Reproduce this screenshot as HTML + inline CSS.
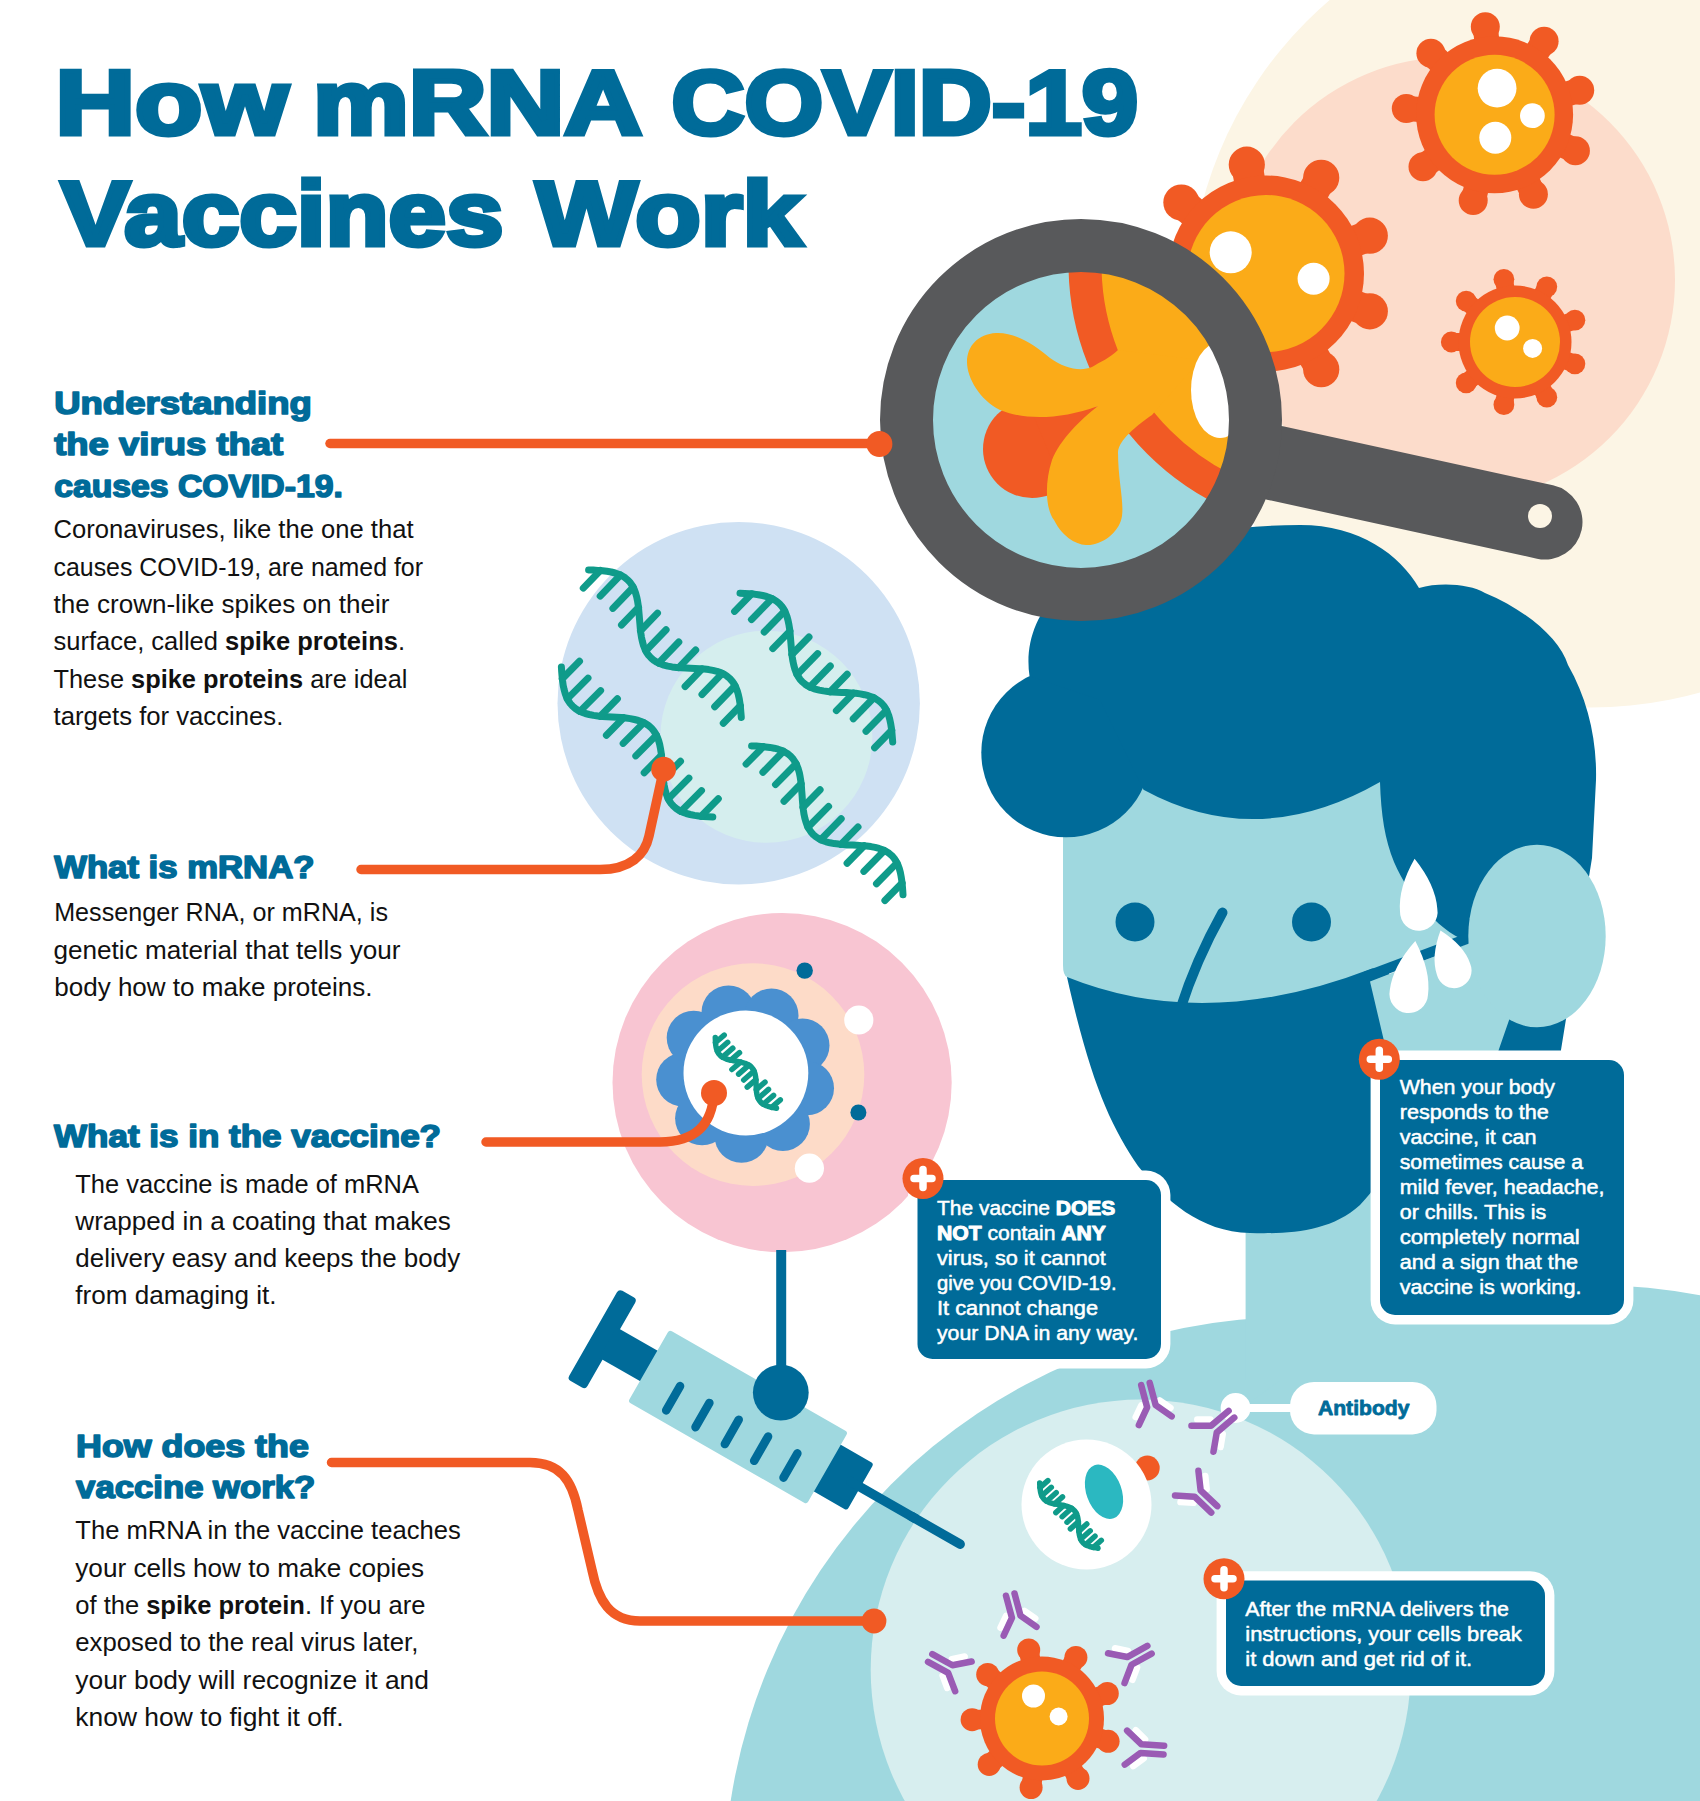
<!DOCTYPE html>
<html><head><meta charset="utf-8"><title>How mRNA COVID-19 Vaccines Work</title>
<style>html,body{margin:0;padding:0;background:#fff;}body{width:1700px;height:1801px;overflow:hidden;font-family:"Liberation Sans",sans-serif;}svg{display:block;}</style></head>
<body>
<svg width="1700" height="1801" viewBox="0 0 1700 1801" font-family="'Liberation Sans', sans-serif">
<circle cx="1591" cy="305.5" r="402" fill="#fcf5e5"/>
<circle cx="1452" cy="280" r="223" fill="#fcdccb"/>
<g><line x1="1486.8" y1="40.6" x2="1485.3" y2="26.7" stroke="#f15a24" stroke-width="25"/><circle cx="1485.3" cy="26.7" r="14.5" fill="#f15a24"/><line x1="1536.3" y1="52.9" x2="1544.1" y2="41.3" stroke="#f15a24" stroke-width="25"/><circle cx="1544.1" cy="41.3" r="14.5" fill="#f15a24"/><line x1="1566.2" y1="94.2" x2="1579.7" y2="90.3" stroke="#f15a24" stroke-width="25"/><circle cx="1579.7" cy="90.3" r="14.5" fill="#f15a24"/><line x1="1562.7" y1="145" x2="1575.4" y2="150.7" stroke="#f15a24" stroke-width="25"/><circle cx="1575.4" cy="150.7" r="14.5" fill="#f15a24"/><line x1="1527.3" y1="181.7" x2="1533.4" y2="194.2" stroke="#f15a24" stroke-width="25"/><circle cx="1533.4" cy="194.2" r="14.5" fill="#f15a24"/><line x1="1476.6" y1="187" x2="1473.2" y2="200.6" stroke="#f15a24" stroke-width="25"/><circle cx="1473.2" cy="200.6" r="14.5" fill="#f15a24"/><line x1="1434.3" y1="158.5" x2="1423" y2="166.7" stroke="#f15a24" stroke-width="25"/><circle cx="1423" cy="166.7" r="14.5" fill="#f15a24"/><line x1="1420.3" y1="109.5" x2="1406.3" y2="108.5" stroke="#f15a24" stroke-width="25"/><circle cx="1406.3" cy="108.5" r="14.5" fill="#f15a24"/><line x1="1441" y1="62.9" x2="1430.9" y2="53.2" stroke="#f15a24" stroke-width="25"/><circle cx="1430.9" cy="53.2" r="14.5" fill="#f15a24"/><circle cx="1494.6" cy="114.7" r="78.5" fill="#f15a24"/><circle cx="1494.6" cy="114.7" r="60" fill="#fbab18"/><circle cx="1497.1" cy="88.2" r="19.4" fill="#fff"/><circle cx="1532.4" cy="115.7" r="12.4" fill="#fff"/><circle cx="1495.3" cy="137.7" r="16" fill="#fff"/></g>
<g><line x1="1505.9" y1="290.3" x2="1503.9" y2="279.3" stroke="#f15a24" stroke-width="18"/><circle cx="1503.9" cy="279.3" r="10.4" fill="#f15a24"/><line x1="1541.2" y1="296.5" x2="1546.8" y2="286.8" stroke="#f15a24" stroke-width="18"/><circle cx="1546.8" cy="286.8" r="10.4" fill="#f15a24"/><line x1="1564.3" y1="324" x2="1574.9" y2="320.2" stroke="#f15a24" stroke-width="18"/><circle cx="1574.9" cy="320.2" r="10.4" fill="#f15a24"/><line x1="1564.3" y1="360" x2="1574.9" y2="363.8" stroke="#f15a24" stroke-width="18"/><circle cx="1574.9" cy="363.8" r="10.4" fill="#f15a24"/><line x1="1541.2" y1="387.5" x2="1546.8" y2="397.2" stroke="#f15a24" stroke-width="18"/><circle cx="1546.8" cy="397.2" r="10.4" fill="#f15a24"/><line x1="1505.9" y1="393.7" x2="1503.9" y2="404.7" stroke="#f15a24" stroke-width="18"/><circle cx="1503.9" cy="404.7" r="10.4" fill="#f15a24"/><line x1="1474.8" y1="375.7" x2="1466.2" y2="382.9" stroke="#f15a24" stroke-width="18"/><circle cx="1466.2" cy="382.9" r="10.4" fill="#f15a24"/><line x1="1462.5" y1="342" x2="1451.3" y2="342" stroke="#f15a24" stroke-width="18"/><circle cx="1451.3" cy="342" r="10.4" fill="#f15a24"/><line x1="1474.8" y1="308.3" x2="1466.2" y2="301.1" stroke="#f15a24" stroke-width="18"/><circle cx="1466.2" cy="301.1" r="10.4" fill="#f15a24"/><circle cx="1515" cy="342" r="56.5" fill="#f15a24"/><circle cx="1515" cy="342" r="45" fill="#fbab18"/><circle cx="1507.2" cy="328" r="12.4" fill="#fff"/><circle cx="1532.6" cy="348.4" r="9.5" fill="#fff"/></g>
<g><line x1="1249.7" y1="180.9" x2="1246.8" y2="164.7" stroke="#f15a24" stroke-width="31.2"/><circle cx="1246.8" cy="164.7" r="18.1" fill="#f15a24"/><line x1="1313" y1="192.1" x2="1321.2" y2="177.8" stroke="#f15a24" stroke-width="31.2"/><circle cx="1321.2" cy="177.8" r="18.1" fill="#f15a24"/><line x1="1354.3" y1="241.4" x2="1369.8" y2="235.7" stroke="#f15a24" stroke-width="31.2"/><circle cx="1369.8" cy="235.7" r="18.1" fill="#f15a24"/><line x1="1354.3" y1="305.6" x2="1369.8" y2="311.3" stroke="#f15a24" stroke-width="31.2"/><circle cx="1369.8" cy="311.3" r="18.1" fill="#f15a24"/><line x1="1313" y1="354.9" x2="1321.2" y2="369.2" stroke="#f15a24" stroke-width="31.2"/><circle cx="1321.2" cy="369.2" r="18.1" fill="#f15a24"/><line x1="1249.7" y1="366.1" x2="1246.8" y2="382.3" stroke="#f15a24" stroke-width="31.2"/><circle cx="1246.8" cy="382.3" r="18.1" fill="#f15a24"/><line x1="1194" y1="333.9" x2="1181.4" y2="344.5" stroke="#f15a24" stroke-width="31.2"/><circle cx="1181.4" cy="344.5" r="18.1" fill="#f15a24"/><line x1="1172" y1="273.5" x2="1155.5" y2="273.5" stroke="#f15a24" stroke-width="31.2"/><circle cx="1155.5" cy="273.5" r="18.1" fill="#f15a24"/><line x1="1194" y1="213.1" x2="1181.4" y2="202.5" stroke="#f15a24" stroke-width="31.2"/><circle cx="1181.4" cy="202.5" r="18.1" fill="#f15a24"/><circle cx="1266" cy="273.5" r="98" fill="#f15a24"/><circle cx="1266" cy="273.5" r="78.5" fill="#fbab18"/><circle cx="1230.7" cy="252.3" r="21" fill="#fff"/><circle cx="1313.6" cy="278.8" r="16" fill="#fff"/></g>
<g fill="#9fd8df">
<circle cx="1295" cy="1888" r="571"/>
<circle cx="1593" cy="1845" r="560"/>
<rect x="1245.6" y="1180" width="200" height="200"/>
</g>
<path d="M1063,770 L1063,965 Q1063,975 1067,977 L1085,1015 L1370,1015 L1372,975 L1465,938 L1465,770 Z" fill="#9fd8df"/>
<g fill="#006b99">
<circle cx="1066" cy="752.6" r="84.7"/>
<path d="M1029.5,676 C1025,645 1035,615 1060,590 C1100,550 1200,525 1300,525 C1360,525 1400,555 1419,588 C1440,582 1470,584 1485,593 C1530,612 1560,640 1568,665 C1588,700 1597,740 1596,780 L1592,858 L1561,1050 L1557,1110 L1469,1110 L1469,942 C1445,935 1410,900 1394,862 C1385,840 1381,815 1380,782 Q1258,852 1143.5,789.7 L1100,700 Z"/>
</g>
<circle cx="1135" cy="922" r="19.5" fill="#006b99"/><circle cx="1311.5" cy="922" r="19.5" fill="#006b99"/>
<path d="M1222.5,912.5 Q1196,960 1180,1010" stroke="#006b99" stroke-width="10" stroke-linecap="round" fill="none"/>
<path d="M1067,977 Q1206,1033 1372,968.5 L1388,968 L1402,1050 C1410,1110 1395,1170 1360,1205 C1330,1232 1290,1234 1250,1233 C1200,1232 1165,1200 1138,1166 C1110,1125 1090,1080 1067,977 Z" fill="#006b99"/>
<path d="M1370,981.5 L1472,942 L1530,960 L1507,1026 L1490,1075 L1392,1075 Z" fill="#9fd8df"/>
<path d="M1366,976.7 L1472,936.8" stroke="#006b99" stroke-width="10.5" fill="none"/>
<ellipse cx="1537" cy="936" rx="68.7" ry="91.3" fill="#9fd8df"/>
<path d="M1414.6,858.8 Q1435.5,884.8 1437.3,908.7 A18.8,18.8 0 1 1 1400,911.6 Q1398.1,887.8 1414.6,858.8 Z" fill="#fff"/>
<path d="M1415.3,941 Q1431,970.9 1428,994.7 A19.3,19.3 0 1 1 1389.8,990 Q1392.8,966.1 1415.3,941 Z" fill="#fff"/>
<path d="M1440.5,930.6 Q1464,945.5 1470.1,963.5 A17.6,17.6 0 1 1 1436.9,974.8 Q1430.8,956.8 1440.5,930.6 Z" fill="#fff"/>
<path d="M1275,463 L1545,522" stroke="#58595b" stroke-width="75" stroke-linecap="round" fill="none"/>
<circle cx="1540" cy="516" r="12" fill="#fcf5e5"/>
<circle cx="1081" cy="420" r="190" fill="#9fd8df"/>
<clipPath id="lens"><circle cx="1081" cy="420" r="150"/></clipPath>
<g clip-path="url(#lens)">
<circle cx="1337" cy="264" r="252" fill="#fbab18" stroke="#f15a24" stroke-width="33"/>
<circle cx="1032" cy="449" r="49" fill="#f15a24"/>
<path d="M1032,412 L1099,406 L1056,470 Z" fill="#f15a24"/>
<path d="M1118,350 C1110,358 1100,362 1092,367 C1080,372 1064,368 1050,358 C1036,346 1016,332 996,333 C978,334 967,346 967,362 C967,378 980,400 1000,410 C1024,420 1060,420 1098,406 C1080,420 1060,440 1052,460 C1044,484 1046,510 1054,520 C1064,540 1080,546 1090,545 C1106,543 1120,530 1122,516 C1124,500 1118,480 1118,452 C1119,440 1136,426 1152,415 L1200,360 Z" fill="#fbab18"/>
<ellipse cx="1220" cy="390" rx="29" ry="48" fill="#fff"/>
</g>
<circle cx="1081" cy="420" r="174.5" fill="none" stroke="#58595b" stroke-width="53"/>
<circle cx="738.7" cy="703.2" r="181.2" fill="#cfe1f3"/>
<circle cx="766.4" cy="736.8" r="106" fill="#d5eeee"/>
<g fill="none" stroke="#0f9b8a" stroke-width="7" stroke-linecap="round" stroke-linejoin="round"><path d="M588.6,569.9 L593.3,570.1 L598,570.4 L602.5,570.7 L606.9,571.3 L611.2,572 L615.1,573 L618.8,574.3 L622.2,575.9 L625.2,577.8 L627.9,580.1 L630.3,582.7 L632.4,585.7 L634.1,589 L635.5,592.7 L636.6,596.6 L637.5,600.8 L638.2,605.2 L638.7,609.7 L639.1,614.4 L639.5,619.1 L639.9,623.8 L640.3,628.4 L640.8,633 L641.5,637.4 L642.4,641.5 L643.5,645.5 L644.9,649.1 L646.6,652.4 L648.7,655.4 L651.1,658 L653.8,660.3 L656.8,662.2 L660.2,663.8 L663.9,665.1 L667.8,666.1 L672.1,666.9 L676.5,667.4 L681,667.8 L685.7,668 L690.4,668.2 L695.1,668.4 L699.8,668.7 L704.3,669.1 L708.7,669.6 L713,670.4 L716.9,671.3 L720.6,672.6 L724,674.2 L727,676.2 L729.7,678.4 L732.1,681.1 L734.2,684.1 L735.9,687.4 L737.3,691 L738.4,694.9 L739.3,699.1 L740,703.5 L740.5,708 L740.9,712.7 L741.3,717.4"/><path d="M600.3,570.5 L583.3,588.1"/><path d="M620.5,575 L600.2,596.1"/><path d="M633.2,587.3 L612.9,608.4"/><path d="M638.5,607.4 L621.5,625"/><path d="M640.5,630.7 L657.5,613.1"/><path d="M645.8,650.8 L666.1,629.7"/><path d="M658.5,663.1 L678.8,642"/><path d="M678.7,667.6 L695.7,650"/><path d="M702.1,668.9 L685.1,686.5"/><path d="M722.3,673.4 L702,694.5"/><path d="M735,685.7 L714.7,706.8"/><path d="M740.3,705.7 L723.3,723.3"/></g>
<g fill="none" stroke="#0f9b8a" stroke-width="7" stroke-linecap="round" stroke-linejoin="round"><path d="M740,593.2 L744.7,593.4 L749.4,593.7 L754,594.1 L758.4,594.7 L762.6,595.5 L766.6,596.5 L770.3,597.8 L773.6,599.4 L776.7,601.4 L779.4,603.7 L781.8,606.3 L783.8,609.3 L785.5,612.7 L786.9,616.3 L788,620.3 L788.9,624.5 L789.6,628.9 L790.1,633.4 L790.5,638.1 L790.9,642.8 L791.3,647.5 L791.7,652.2 L792.2,656.7 L792.9,661.1 L793.8,665.3 L794.9,669.3 L796.3,672.9 L798,676.3 L800,679.3 L802.4,681.9 L805.1,684.2 L808.2,686.2 L811.5,687.8 L815.2,689.1 L819.2,690.1 L823.4,690.9 L827.8,691.5 L832.4,691.9 L837.1,692.2 L841.8,692.4 L846.5,692.6 L851.2,692.9 L855.8,693.3 L860.2,693.9 L864.4,694.7 L868.4,695.7 L872.1,697 L875.4,698.6 L878.5,700.6 L881.2,702.9 L883.6,705.5 L885.6,708.5 L887.3,711.9 L888.7,715.5 L889.8,719.5 L890.7,723.7 L891.4,728.1 L891.9,732.6 L892.3,737.3 L892.7,742"/><path d="M751.7,593.9 L734.6,611.4"/><path d="M772,598.6 L751.5,619.6"/><path d="M784.7,611 L764.2,632"/><path d="M789.9,631.1 L772.8,648.6"/><path d="M791.9,654.5 L809,637"/><path d="M797.1,674.6 L817.6,653.6"/><path d="M809.8,687 L830.3,666"/><path d="M830.1,691.7 L847.2,674.2"/><path d="M853.5,693.1 L836.4,710.6"/><path d="M873.8,697.8 L853.3,718.8"/><path d="M886.5,710.2 L866,731.2"/><path d="M891.7,730.3 L874.6,747.8"/></g>
<g fill="none" stroke="#0f9b8a" stroke-width="7" stroke-linecap="round" stroke-linejoin="round"><path d="M751.6,745.9 L756.3,746.1 L761,746.5 L765.5,746.9 L769.9,747.4 L774.1,748.2 L778.1,749.2 L781.8,750.6 L785.1,752.2 L788.2,754.1 L790.9,756.4 L793.2,759.1 L795.2,762.1 L796.9,765.4 L798.3,769.1 L799.4,773 L800.2,777.2 L800.9,781.6 L801.4,786.1 L801.7,790.8 L802.1,795.5 L802.4,800.2 L802.8,804.9 L803.3,809.4 L803.9,813.8 L804.8,818 L805.9,821.9 L807.2,825.6 L808.9,828.9 L810.9,831.9 L813.3,834.6 L816,836.9 L819,838.8 L822.4,840.4 L826.1,841.8 L830,842.8 L834.2,843.6 L838.6,844.1 L843.2,844.5 L847.8,844.9 L852.5,845.1 L857.2,845.3 L861.9,845.7 L866.5,846.1 L870.9,846.6 L875.1,847.4 L879,848.4 L882.7,849.8 L886.1,851.4 L889.1,853.3 L891.8,855.6 L894.1,858.3 L896.1,861.3 L897.8,864.6 L899.2,868.3 L900.3,872.2 L901.1,876.4 L901.8,880.8 L902.3,885.3 L902.7,890 L903,894.7"/><path d="M763.3,746.6 L746.1,764.1"/><path d="M783.5,751.3 L762.9,772.2"/><path d="M796.1,763.7 L775.5,784.6"/><path d="M801.1,783.8 L784,801.3"/><path d="M803,807.2 L820.1,789.7"/><path d="M808,827.3 L828.6,806.4"/><path d="M820.7,839.7 L841.2,818.8"/><path d="M840.9,844.4 L858,826.9"/><path d="M864.2,845.8 L847.1,863.3"/><path d="M884.4,850.5 L863.9,871.4"/><path d="M897,862.9 L876.5,883.8"/><path d="M902.1,883 L884.9,900.5"/></g>
<g fill="none" stroke="#0f9b8a" stroke-width="7" stroke-linecap="round" stroke-linejoin="round"><path d="M561.4,667 L561.7,671.7 L562.1,676.4 L562.6,681 L563.2,685.4 L564.1,689.5 L565.2,693.5 L566.5,697.2 L568.2,700.5 L570.2,703.5 L572.6,706.2 L575.3,708.5 L578.3,710.5 L581.7,712.2 L585.3,713.5 L589.3,714.5 L593.5,715.4 L597.9,716 L602.5,716.4 L607.1,716.7 L611.9,717 L616.6,717.3 L621.3,717.6 L625.8,718 L630.2,718.6 L634.4,719.5 L638.4,720.5 L642.1,721.8 L645.4,723.5 L648.5,725.5 L651.2,727.8 L653.5,730.5 L655.5,733.5 L657.2,736.8 L658.6,740.5 L659.7,744.5 L660.5,748.6 L661.2,753 L661.6,757.6 L662,762.3 L662.3,767 L662.7,771.7 L663,776.4 L663.5,781 L664.2,785.4 L665,789.5 L666.1,793.5 L667.5,797.2 L669.1,800.5 L671.1,803.5 L673.5,806.2 L676.2,808.5 L679.2,810.5 L682.6,812.2 L686.3,813.5 L690.2,814.5 L694.4,815.4 L698.8,816 L703.4,816.4 L708.1,816.7 L712.8,817"/><path d="M562.3,678.7 L579.5,661.3"/><path d="M567.3,698.9 L588,678.1"/><path d="M579.9,711.4 L600.6,690.6"/><path d="M600.2,716.2 L617.4,698.8"/><path d="M623.6,717.8 L606.4,735.2"/><path d="M643.8,722.6 L623.2,743.4"/><path d="M656.4,735.1 L635.8,755.9"/><path d="M661.4,755.3 L644.2,772.7"/><path d="M663.3,778.7 L680.5,761.3"/><path d="M668.3,798.9 L688.9,778.1"/><path d="M680.9,811.4 L701.5,790.6"/><path d="M701.1,816.2 L718.3,798.8"/></g>
<circle cx="782.1" cy="1082.6" r="169.6" fill="#f8c5d2"/>
<circle cx="753" cy="1074.6" r="111.3" fill="#fddbc8"/>
<g fill="#4a90d0"><circle cx="745.9" cy="1073" r="72"/><circle cx="683.2" cy="1079.6" r="27"/><circle cx="693.7" cy="1037.8" r="27"/><circle cx="728.5" cy="1012.4" r="27"/><circle cx="771.5" cy="1015.4" r="27"/><circle cx="802.5" cy="1045.4" r="27"/><circle cx="807" cy="1088.2" r="27"/><circle cx="782.9" cy="1124" r="27"/><circle cx="741.5" cy="1135.8" r="27"/><circle cx="702.1" cy="1118.3" r="27"/></g>
<circle cx="745.9" cy="1073" r="62.4" fill="#fff"/>
<g fill="none" stroke="#0f9b8a" stroke-width="5.5" stroke-linecap="round" stroke-linejoin="round"><path d="M715.3,1037.6 L715.4,1039.6 L715.5,1041.6 L715.6,1043.5 L715.8,1045.4 L716.1,1047.2 L716.5,1048.9 L717.1,1050.5 L717.7,1052 L718.5,1053.4 L719.5,1054.6 L720.5,1055.7 L721.8,1056.7 L723.2,1057.6 L724.7,1058.3 L726.3,1059 L728.1,1059.5 L729.9,1060 L731.8,1060.4 L733.7,1060.8 L735.7,1061.1 L737.7,1061.5 L739.6,1061.9 L741.5,1062.3 L743.3,1062.8 L745.1,1063.3 L746.7,1064 L748.2,1064.7 L749.6,1065.6 L750.9,1066.5 L751.9,1067.7 L752.9,1068.9 L753.7,1070.3 L754.3,1071.8 L754.9,1073.4 L755.3,1075.1 L755.6,1076.9 L755.8,1078.8 L755.9,1080.7 L756,1082.7 L756.1,1084.7 L756.2,1086.7 L756.3,1088.6 L756.4,1090.6 L756.6,1092.5 L756.9,1094.3 L757.3,1096 L757.9,1097.6 L758.5,1099.1 L759.3,1100.4 L760.3,1101.7 L761.3,1102.8 L762.6,1103.8 L764,1104.6 L765.5,1105.4 L767.1,1106 L768.9,1106.6 L770.7,1107 L772.6,1107.5 L774.5,1107.8 L776.5,1108.2"/><path d="M715.5,1042.5 L724.2,1035.1"/><path d="M717.4,1051.3 L727.7,1042.3"/><path d="M722.5,1057.1 L732.8,1048.2"/><path d="M730.8,1060.2 L739.5,1052.7"/><path d="M740.6,1062.1 L731.9,1069.5"/><path d="M748.9,1065.1 L738.6,1074.1"/><path d="M754,1071 L743.7,1080"/><path d="M755.9,1079.7 L747.2,1087.2"/><path d="M756.3,1089.6 L765,1082.1"/><path d="M758.2,1098.3 L768.5,1089.4"/><path d="M763.3,1104.2 L773.6,1095.3"/><path d="M771.6,1107.3 L780.3,1099.8"/></g>
<circle cx="804.7" cy="970.6" r="8.2" fill="#006b99"/><circle cx="858.4" cy="1112.5" r="8" fill="#006b99"/>
<circle cx="858.8" cy="1020" r="14.6" fill="#fff"/><circle cx="809.4" cy="1168.2" r="14.6" fill="#fff"/>
<g transform="translate(738,1417) rotate(29.8)">
<rect x="-167" y="-52" width="21" height="104" rx="4" fill="#006b99"/>
<rect x="-150" y="-17.5" width="50" height="35" fill="#006b99"/>
<rect x="100" y="-27" width="41" height="54" rx="3" fill="#006b99"/>
<path d="M130,0 L256,0" stroke="#006b99" stroke-width="9.5" stroke-linecap="round"/>
<rect x="-103" y="-41.5" width="206" height="83" rx="3" fill="#9fd8df"/>
<path d="M-65.6,2 L-65.6,30" stroke="#006b99" stroke-width="8.5" stroke-linecap="round"/>
<path d="M-31.8,2 L-31.8,30" stroke="#006b99" stroke-width="8.5" stroke-linecap="round"/>
<path d="M2,2 L2,30" stroke="#006b99" stroke-width="8.5" stroke-linecap="round"/>
<path d="M35.8,2 L35.8,30" stroke="#006b99" stroke-width="8.5" stroke-linecap="round"/>
<path d="M69.6,2 L69.6,30" stroke="#006b99" stroke-width="8.5" stroke-linecap="round"/>
</g>
<path d="M781.2,1250 L781.2,1392" stroke="#006b99" stroke-width="10"/>
<circle cx="780.8" cy="1392.6" r="27.9" fill="#006b99"/>
<clipPath id="page"><rect x="0" y="0" width="1700" height="1801"/></clipPath>
<circle cx="1140.7" cy="1669.6" r="270" fill="#d7eeef"/>
<g transform="translate(738,1417) rotate(29.8)"><path d="M200,0 L256,0" stroke="#006b99" stroke-width="9.5" stroke-linecap="round"/></g>
<circle cx="1147.3" cy="1468" r="12.4" fill="#f15a24"/>
<circle cx="1086.5" cy="1504.5" r="65" fill="#fff"/>
<ellipse cx="1104" cy="1491.8" rx="17.6" ry="28.2" fill="#2bb8c1" transform="rotate(-20 1104 1491.8)"/>
<g fill="none" stroke="#0f9b8a" stroke-width="5.5" stroke-linecap="round" stroke-linejoin="round"><path d="M1039.7,1483 L1039.8,1484.9 L1039.9,1486.7 L1040.1,1488.5 L1040.3,1490.3 L1040.6,1492 L1041,1493.6 L1041.5,1495.1 L1042.2,1496.4 L1042.9,1497.7 L1043.8,1498.9 L1044.9,1499.9 L1046,1500.8 L1047.4,1501.6 L1048.8,1502.3 L1050.3,1502.8 L1052,1503.3 L1053.7,1503.7 L1055.5,1504.1 L1057.3,1504.4 L1059.1,1504.7 L1061,1505 L1062.8,1505.4 L1064.6,1505.7 L1066.3,1506.1 L1067.9,1506.6 L1069.5,1507.2 L1070.9,1507.9 L1072.2,1508.7 L1073.4,1509.6 L1074.4,1510.6 L1075.3,1511.7 L1076.1,1513 L1076.7,1514.4 L1077.3,1515.9 L1077.7,1517.5 L1078,1519.2 L1078.2,1520.9 L1078.4,1522.7 L1078.5,1524.6 L1078.6,1526.5 L1078.7,1528.3 L1078.8,1530.2 L1078.9,1532 L1079.2,1533.8 L1079.5,1535.4 L1079.9,1537 L1080.4,1538.5 L1081,1539.9 L1081.8,1541.2 L1082.7,1542.3 L1083.7,1543.4 L1084.9,1544.3 L1086.2,1545 L1087.6,1545.7 L1089.2,1546.3 L1090.8,1546.8 L1092.5,1547.2 L1094.3,1547.6 L1096.2,1547.9 L1098,1548.2"/><path d="M1040,1487.6 L1047.9,1480.6"/><path d="M1041.8,1495.8 L1051.3,1487.3"/><path d="M1046.7,1501.2 L1056.2,1492.7"/><path d="M1054.6,1503.9 L1062.5,1496.9"/><path d="M1063.7,1505.5 L1055.8,1512.6"/><path d="M1071.6,1508.3 L1062.1,1516.7"/><path d="M1076.4,1513.7 L1067,1522.2"/><path d="M1078.3,1521.8 L1070.4,1528.9"/><path d="M1078.9,1531.1 L1086.8,1524"/><path d="M1080.7,1539.2 L1090.2,1530.8"/><path d="M1085.5,1544.7 L1095,1536.2"/><path d="M1093.4,1547.4 L1101.3,1540.3"/></g>
<g><line x1="1030.9" y1="1661.6" x2="1028.7" y2="1649.9" stroke="#f15a24" stroke-width="19.7"/><circle cx="1028.7" cy="1649.9" r="11.5" fill="#f15a24"/><line x1="1070.1" y1="1667.8" x2="1075.9" y2="1657.4" stroke="#f15a24" stroke-width="19.7"/><circle cx="1075.9" cy="1657.4" r="11.5" fill="#f15a24"/><line x1="1096.1" y1="1697.7" x2="1107.3" y2="1693.5" stroke="#f15a24" stroke-width="19.7"/><circle cx="1107.3" cy="1693.5" r="11.5" fill="#f15a24"/><line x1="1096.8" y1="1737.4" x2="1108.1" y2="1741.3" stroke="#f15a24" stroke-width="19.7"/><circle cx="1108.1" cy="1741.3" r="11.5" fill="#f15a24"/><line x1="1071.9" y1="1768.2" x2="1078" y2="1778.4" stroke="#f15a24" stroke-width="19.7"/><circle cx="1078" cy="1778.4" r="11.5" fill="#f15a24"/><line x1="1032.9" y1="1775.8" x2="1031.1" y2="1787.5" stroke="#f15a24" stroke-width="19.7"/><circle cx="1031.1" cy="1787.5" r="11.5" fill="#f15a24"/><line x1="998.2" y1="1756.6" x2="989.2" y2="1764.4" stroke="#f15a24" stroke-width="19.7"/><circle cx="989.2" cy="1764.4" r="11.5" fill="#f15a24"/><line x1="984" y1="1719.5" x2="972.1" y2="1719.7" stroke="#f15a24" stroke-width="19.7"/><circle cx="972.1" cy="1719.7" r="11.5" fill="#f15a24"/><line x1="996.9" y1="1682" x2="987.7" y2="1674.5" stroke="#f15a24" stroke-width="19.7"/><circle cx="987.7" cy="1674.5" r="11.5" fill="#f15a24"/><circle cx="1042" cy="1718.5" r="62" fill="#f15a24"/><circle cx="1042" cy="1718.5" r="47" fill="#fbab18"/><circle cx="1033.5" cy="1696" r="11.5" fill="#fff"/><circle cx="1058.6" cy="1716.5" r="9" fill="#fff"/></g>
<path d="M1236,1408 L1300,1408" stroke="#fff" stroke-width="8"/>
<circle cx="1235.6" cy="1408" r="15" fill="#fff"/>
<rect x="1290" y="1382" width="146.5" height="52.4" rx="24" fill="#fff"/>
<g transform="translate(1151.4,1406.2) rotate(-15)" fill="none" stroke-linejoin="round" stroke-linecap="round"><path d="M-9.5,6.5 L-18,16.5 M9.5,6.5 L18,16.5" stroke="#fff" stroke-width="6.5" transform="translate(0,-10)"/><path d="M-4.4,-23 L-4.4,0 L-17,15 M4.4,-23 L4.4,0 L17,15" stroke="#9a5bb4" stroke-width="6.5"/></g>
<g transform="translate(1213.9,1429.1) rotate(49.7)" fill="none" stroke-linejoin="round" stroke-linecap="round"><path d="M-9.5,6.5 L-18,16.5 M9.5,6.5 L18,16.5" stroke="#fff" stroke-width="6.5" transform="translate(0,-10)"/><path d="M-4.4,-23 L-4.4,0 L-17,15 M4.4,-23 L4.4,0 L17,15" stroke="#9a5bb4" stroke-width="6.5"/></g>
<g transform="translate(1197.6,1493.5) rotate(133.5)" fill="none" stroke-linejoin="round" stroke-linecap="round"><path d="M-9.5,6.5 L-18,16.5 M9.5,6.5 L18,16.5" stroke="#fff" stroke-width="6.5" transform="translate(0,-10)"/><path d="M-4.4,-23 L-4.4,0 L-17,15 M4.4,-23 L4.4,0 L17,15" stroke="#9a5bb4" stroke-width="6.5"/></g>
<g transform="translate(1016.2,1616.8) rotate(-15)" fill="none" stroke-linejoin="round" stroke-linecap="round"><path d="M-9.5,6.5 L-18,16.5 M9.5,6.5 L18,16.5" stroke="#fff" stroke-width="6.5" transform="translate(0,-10)"/><path d="M-4.4,-23 L-4.4,0 L-17,15 M4.4,-23 L4.4,0 L17,15" stroke="#9a5bb4" stroke-width="6.5"/></g>
<g transform="translate(950.3,1669.1) rotate(-61)" fill="none" stroke-linejoin="round" stroke-linecap="round"><path d="M-9.5,6.5 L-18,16.5 M9.5,6.5 L18,16.5" stroke="#fff" stroke-width="6.5" transform="translate(0,-10)"/><path d="M-4.4,-23 L-4.4,0 L-17,15 M4.4,-23 L4.4,0 L17,15" stroke="#9a5bb4" stroke-width="6.5"/></g>
<g transform="translate(1129.4,1660.9) rotate(61)" fill="none" stroke-linejoin="round" stroke-linecap="round"><path d="M-9.5,6.5 L-18,16.5 M9.5,6.5 L18,16.5" stroke="#fff" stroke-width="6.5" transform="translate(0,-10)"/><path d="M-4.4,-23 L-4.4,0 L-17,15 M4.4,-23 L4.4,0 L17,15" stroke="#9a5bb4" stroke-width="6.5"/></g>
<g transform="translate(1140.9,1748.6) rotate(94)" fill="none" stroke-linejoin="round" stroke-linecap="round"><path d="M-9.5,6.5 L-18,16.5 M9.5,6.5 L18,16.5" stroke="#fff" stroke-width="6.5" transform="translate(0,-10)"/><path d="M-4.4,-23 L-4.4,0 L-17,15 M4.4,-23 L4.4,0 L17,15" stroke="#9a5bb4" stroke-width="6.5"/></g>
<g fill="none" stroke="#f15a24" stroke-width="9.5" stroke-linecap="round" stroke-linejoin="round">
<path d="M330,443.5 L879,443.5"/>
<path d="M361,869.5 L600,869.5 C630,869.5 645,855 649,836 L663.6,769.2"/>
<path d="M486,1142 L660,1142 C695,1142 712,1125 714,1093"/>
<path d="M331.5,1462.5 H530 C560,1462.5 572,1480 578,1510 L592,1570 C598,1600 610,1621 640,1621 H874"/>
</g>
<circle cx="879.4" cy="444" r="13" fill="#f15a24"/>
<circle cx="663.6" cy="769.2" r="12.4" fill="#f15a24"/>
<circle cx="714" cy="1093" r="13" fill="#f15a24"/>
<circle cx="874" cy="1621" r="12.4" fill="#f15a24"/>
<rect x="1370.6" y="1050.6" width="262.8" height="273.8" rx="24.4" fill="#fff"/><rect x="1380" y="1060" width="244" height="255" rx="15" fill="#006b99"/>
<circle cx="1379.3" cy="1059.3" r="20.5" fill="#f15a24"/><path d="M1370.3,1059.3 h18 M1379.3,1050.3 v18" stroke="#fff" stroke-width="7.5" stroke-linecap="round" fill="none"/>
<rect x="908.1" y="1170.6" width="262.3" height="197.8" rx="24.4" fill="#fff"/><rect x="917.5" y="1180" width="243.5" height="179" rx="15" fill="#006b99"/>
<circle cx="923" cy="1178.5" r="20.5" fill="#f15a24"/><path d="M914,1178.5 h18 M923,1169.5 v18" stroke="#fff" stroke-width="7.5" stroke-linecap="round" fill="none"/>
<rect x="1216.6" y="1571.2" width="337.8" height="124.2" rx="24.4" fill="#fff"/><rect x="1226" y="1580.6" width="319" height="105.4" rx="15" fill="#006b99"/>
<circle cx="1224" cy="1578.8" r="20.5" fill="#f15a24"/><path d="M1215,1578.8 h18 M1224,1569.8 v18" stroke="#fff" stroke-width="7.5" stroke-linecap="round" fill="none"/>
<text x="55.5" y="133.8" font-size="91" fill="#006b99" font-weight="bold" textLength="232.5" lengthAdjust="spacingAndGlyphs" stroke="#006b99" stroke-width="5" stroke-linejoin="miter" >How</text>
<text x="313" y="133.8" font-size="91" fill="#006b99" font-weight="bold" textLength="329" lengthAdjust="spacingAndGlyphs" stroke="#006b99" stroke-width="5" stroke-linejoin="miter" >mRNA</text>
<text x="671.5" y="133.8" font-size="91" fill="#006b99" font-weight="bold" textLength="466.5" lengthAdjust="spacingAndGlyphs" stroke="#006b99" stroke-width="5" stroke-linejoin="miter" >COVID-19</text>
<text x="61" y="244.8" font-size="91" fill="#006b99" font-weight="bold" textLength="442.5" lengthAdjust="spacingAndGlyphs" stroke="#006b99" stroke-width="5" stroke-linejoin="miter" >Vaccines</text>
<text x="536" y="244.8" font-size="91" fill="#006b99" font-weight="bold" textLength="266" lengthAdjust="spacingAndGlyphs" stroke="#006b99" stroke-width="5" stroke-linejoin="miter" >Work</text>
<text x="54.2" y="414" font-size="31" fill="#006b99" font-weight="bold" textLength="257.6" lengthAdjust="spacingAndGlyphs" stroke="#006b99" stroke-width="1.6" stroke-linejoin="round" >Understanding</text>
<text x="54.2" y="455.4" font-size="31" fill="#006b99" font-weight="bold" textLength="229.1" lengthAdjust="spacingAndGlyphs" stroke="#006b99" stroke-width="1.6" stroke-linejoin="round" >the virus that</text>
<text x="54.2" y="496.8" font-size="31" fill="#006b99" font-weight="bold" textLength="288.6" lengthAdjust="spacingAndGlyphs" stroke="#006b99" stroke-width="1.6" stroke-linejoin="round" >causes COVID-19.</text>
<text x="54.2" y="877.9" font-size="31" fill="#006b99" font-weight="bold" textLength="260.2" lengthAdjust="spacingAndGlyphs" stroke="#006b99" stroke-width="1.6" stroke-linejoin="round" >What is mRNA?</text>
<text x="54.1" y="1147.4" font-size="31" fill="#006b99" font-weight="bold" textLength="386.9" lengthAdjust="spacingAndGlyphs" stroke="#006b99" stroke-width="1.6" stroke-linejoin="round" >What is in the vaccine?</text>
<text x="76.1" y="1456.6" font-size="31" fill="#006b99" font-weight="bold" textLength="232.7" lengthAdjust="spacingAndGlyphs" stroke="#006b99" stroke-width="1.6" stroke-linejoin="round" >How does the</text>
<text x="76.1" y="1497.5" font-size="31" fill="#006b99" font-weight="bold" textLength="239.2" lengthAdjust="spacingAndGlyphs" stroke="#006b99" stroke-width="1.6" stroke-linejoin="round" >vaccine work?</text>
<text x="53.5" y="538.2" font-size="25" fill="#111111" textLength="360" lengthAdjust="spacingAndGlyphs" >Coronaviruses, like the one that</text>
<text x="53.5" y="575.8" font-size="25" fill="#111111" textLength="369.5" lengthAdjust="spacingAndGlyphs" >causes COVID-19, are named for</text>
<text x="53.5" y="613.3" font-size="25" fill="#111111" textLength="335.9" lengthAdjust="spacingAndGlyphs" >the crown-like spikes on their</text>
<text x="53.5" y="650.3" font-size="25" fill="#111111" textLength="351.5" lengthAdjust="spacingAndGlyphs" >surface, called <tspan font-weight="bold">spike proteins</tspan>.</text>
<text x="53.5" y="687.8" font-size="25" fill="#111111" textLength="354" lengthAdjust="spacingAndGlyphs" >These <tspan font-weight="bold">spike proteins</tspan> are ideal</text>
<text x="53.5" y="725.1" font-size="25" fill="#111111" textLength="229.8" lengthAdjust="spacingAndGlyphs" >targets for vaccines.</text>
<text x="54.2" y="921" font-size="25" fill="#111111" textLength="333.8" lengthAdjust="spacingAndGlyphs" >Messenger RNA, or mRNA, is</text>
<text x="53.5" y="958.6" font-size="25" fill="#111111" textLength="347" lengthAdjust="spacingAndGlyphs" >genetic material that tells your</text>
<text x="54.2" y="995.6" font-size="25" fill="#111111" textLength="318.4" lengthAdjust="spacingAndGlyphs" >body how to make proteins.</text>
<text x="75.3" y="1192.6" font-size="25" fill="#111111" textLength="343.6" lengthAdjust="spacingAndGlyphs" >The vaccine is made of mRNA</text>
<text x="75.3" y="1229.9" font-size="25" fill="#111111" textLength="375.5" lengthAdjust="spacingAndGlyphs" >wrapped in a coating that makes</text>
<text x="75.3" y="1267.2" font-size="25" fill="#111111" textLength="384.8" lengthAdjust="spacingAndGlyphs" >delivery easy and keeps the body</text>
<text x="75.3" y="1304.1" font-size="25" fill="#111111" textLength="201.3" lengthAdjust="spacingAndGlyphs" >from damaging it.</text>
<text x="75.3" y="1539.3" font-size="25" fill="#111111" textLength="385.4" lengthAdjust="spacingAndGlyphs" >The mRNA in the vaccine teaches</text>
<text x="75.3" y="1576.6" font-size="25" fill="#111111" textLength="348.7" lengthAdjust="spacingAndGlyphs" >your cells how to make copies</text>
<text x="75.3" y="1613.9" font-size="25" fill="#111111" textLength="350.1" lengthAdjust="spacingAndGlyphs" >of the <tspan font-weight="bold">spike protein</tspan>. If you are</text>
<text x="75.3" y="1651.4" font-size="25" fill="#111111" textLength="343" lengthAdjust="spacingAndGlyphs" >exposed to the real virus later,</text>
<text x="75.3" y="1689" font-size="25" fill="#111111" textLength="353.7" lengthAdjust="spacingAndGlyphs" >your body will recognize it and</text>
<text x="75.3" y="1726.2" font-size="25" fill="#111111" textLength="268.2" lengthAdjust="spacingAndGlyphs" >know how to fight it off.</text>
<text x="1399.7" y="1093.8" font-size="20" fill="#ffffff" textLength="155.3" lengthAdjust="spacingAndGlyphs" stroke="#ffffff" stroke-width="0.5" stroke-linejoin="round" >When your body</text>
<text x="1399.7" y="1118.8" font-size="20" fill="#ffffff" textLength="149.1" lengthAdjust="spacingAndGlyphs" stroke="#ffffff" stroke-width="0.5" stroke-linejoin="round" >responds to the</text>
<text x="1399.7" y="1143.8" font-size="20" fill="#ffffff" textLength="136.8" lengthAdjust="spacingAndGlyphs" stroke="#ffffff" stroke-width="0.5" stroke-linejoin="round" >vaccine, it can</text>
<text x="1399.7" y="1168.8" font-size="20" fill="#ffffff" textLength="183.5" lengthAdjust="spacingAndGlyphs" stroke="#ffffff" stroke-width="0.5" stroke-linejoin="round" >sometimes cause a</text>
<text x="1399.7" y="1193.8" font-size="20" fill="#ffffff" textLength="204.7" lengthAdjust="spacingAndGlyphs" stroke="#ffffff" stroke-width="0.5" stroke-linejoin="round" >mild fever, headache,</text>
<text x="1399.7" y="1218.8" font-size="20" fill="#ffffff" textLength="146.5" lengthAdjust="spacingAndGlyphs" stroke="#ffffff" stroke-width="0.5" stroke-linejoin="round" >or chills. This is</text>
<text x="1399.7" y="1243.8" font-size="20" fill="#ffffff" textLength="180" lengthAdjust="spacingAndGlyphs" stroke="#ffffff" stroke-width="0.5" stroke-linejoin="round" >completely normal</text>
<text x="1399.7" y="1268.8" font-size="20" fill="#ffffff" textLength="178.3" lengthAdjust="spacingAndGlyphs" stroke="#ffffff" stroke-width="0.5" stroke-linejoin="round" >and a sign that the</text>
<text x="1399.7" y="1293.8" font-size="20" fill="#ffffff" textLength="181.8" lengthAdjust="spacingAndGlyphs" stroke="#ffffff" stroke-width="0.5" stroke-linejoin="round" >vaccine is working.</text>
<text x="937" y="1215.3" font-size="20" fill="#ffffff" textLength="178.2" lengthAdjust="spacingAndGlyphs" stroke="#ffffff" stroke-width="0.5" stroke-linejoin="round" >The vaccine <tspan font-weight="bold" stroke-width="1">DOES</tspan></text>
<text x="937" y="1240.3" font-size="20" fill="#ffffff" textLength="168.9" lengthAdjust="spacingAndGlyphs" stroke="#ffffff" stroke-width="0.5" stroke-linejoin="round" ><tspan font-weight="bold" stroke-width="1">NOT</tspan> contain <tspan font-weight="bold" stroke-width="1">ANY</tspan></text>
<text x="937" y="1265.3" font-size="20" fill="#ffffff" textLength="168.9" lengthAdjust="spacingAndGlyphs" stroke="#ffffff" stroke-width="0.5" stroke-linejoin="round" >virus, so it cannot</text>
<text x="937" y="1290.3" font-size="20" fill="#ffffff" textLength="179.5" lengthAdjust="spacingAndGlyphs" stroke="#ffffff" stroke-width="0.5" stroke-linejoin="round" >give you COVID-19.</text>
<text x="937" y="1315.3" font-size="20" fill="#ffffff" textLength="161" lengthAdjust="spacingAndGlyphs" stroke="#ffffff" stroke-width="0.5" stroke-linejoin="round" >It cannot change</text>
<text x="937" y="1340.3" font-size="20" fill="#ffffff" textLength="201.5" lengthAdjust="spacingAndGlyphs" stroke="#ffffff" stroke-width="0.5" stroke-linejoin="round" >your DNA in any way.</text>
<text x="1245.3" y="1615.5" font-size="20" fill="#ffffff" textLength="263.7" lengthAdjust="spacingAndGlyphs" stroke="#ffffff" stroke-width="0.5" stroke-linejoin="round" >After the mRNA delivers the</text>
<text x="1245.3" y="1640.5" font-size="20" fill="#ffffff" textLength="276.5" lengthAdjust="spacingAndGlyphs" stroke="#ffffff" stroke-width="0.5" stroke-linejoin="round" >instructions, your cells break</text>
<text x="1245.3" y="1665.8" font-size="20" fill="#ffffff" textLength="226.9" lengthAdjust="spacingAndGlyphs" stroke="#ffffff" stroke-width="0.5" stroke-linejoin="round" >it down and get rid of it.</text>
<text x="1318" y="1415" font-size="20" fill="#006b99" font-weight="bold" textLength="91.4" lengthAdjust="spacingAndGlyphs" stroke="#006b99" stroke-width="0.8" stroke-linejoin="round" >Antibody</text>
</svg>
</body></html>
